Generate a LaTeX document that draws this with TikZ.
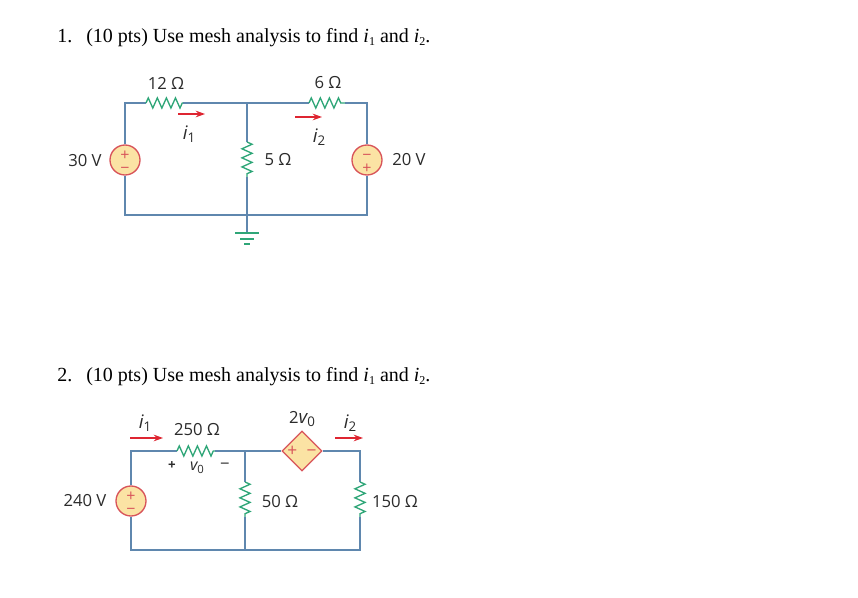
\documentclass[tikz,border=0pt]{standalone}
\usepackage{fontspec}
\setmainfont{Liberation Serif}
\newfontfamily\labelfont{Open Sans}
\usepackage{xcolor}
\usetikzlibrary{shapes.geometric, arrows.meta, positioning, calc, decorations.pathmorphing}
\definecolor{wireblue}{HTML}{5F87AE}
\definecolor{resgreen}{HTML}{2FA678}
\definecolor{srcfill}{HTML}{FBE3A4}
\definecolor{srcline}{HTML}{D8545A}
\definecolor{currred}{HTML}{DE2531}
\definecolor{inkgray}{HTML}{2B2B2B}
\newcommand{\subvar}[2]{{\fontsize{14}{16}\selectfont\itshape #1}\raisebox{-0.35ex}{\fontsize{10}{10}\selectfont #2}}
\newcommand{\smallvar}[2]{{\fontsize{12}{14}\selectfont\itshape #1}\raisebox{-0.35ex}{\fontsize{8.5}{10}\selectfont #2}}
\newcommand{\headsub}[2]{{\itshape #1}\raisebox{-0.3ex}{\fontsize{9}{10}\selectfont #2}}
\newcommand{\signpair}[2]{\rule{0pt}{10.5pt}#1\\#2}
\tikzset{
    wire/.style={draw=wireblue, line width=1.1pt},
    resistor/.style={draw=resgreen, line width=1pt, decorate,
        decoration={zigzag, segment length=6.8pt, amplitude=3.8pt}},
    source/.style={circle, draw=srcline, fill=srcfill, line width=1pt,
        minimum size=22.5pt, inner sep=0pt, text=srcline, align=center,
        font=\labelfont\fontsize{12}{9.5}\selectfont},
    depsource/.style={diamond, draw=srcline, fill=srcfill, line width=1pt,
        minimum size=30pt, inner sep=0pt, text=srcline,
        font=\labelfont\fontsize{13}{14}\selectfont},
    value/.style={text=inkgray, font=\labelfont\fontsize{12.5}{14}\selectfont, inner sep=0pt},
    heading/.style={anchor=base west, font=\fontsize{15}{18}\selectfont, inner sep=0pt},
    current/.style={-{Stealth[length=7pt, width=5pt]}, draw=currred, line width=1pt},
    earth/.style={draw=resgreen, line width=1pt},
}
\begin{document}
\begin{tikzpicture}[x=0.75pt, y=-0.75pt]
\useasboundingbox (0,0) rectangle (858,598);

% Headings
\node[heading] (numA) at (57,43) {1.};
\node[heading] (headA) at (86,43) {(10 pts) Use mesh analysis to find \headsub{i}{1} and \headsub{i}{2}.};
\node[heading] (numB) at (57,382) {2.};
\node[heading] (headB) at (86,382) {(10 pts) Use mesh analysis to find \headsub{i}{1} and \headsub{i}{2}.};

% First circuit
\coordinate (tlA) at (125,103);
\coordinate (tmA) at (247,103);
\coordinate (trA) at (367,103);
\coordinate (blA) at (125,215);
\coordinate (bmA) at (247,215);
\coordinate (brA) at (367,215);
\coordinate (gndA) at (247,233);
\coordinate (rAa) at (146,103);
\coordinate (rAb) at (183,103);
\coordinate (rBa) at (309,103);
\coordinate (rBb) at (345,103);
\coordinate (rCa) at (247,142);
\coordinate (rCb) at (247,177);
\node[source] (srcA) at (125,160) {\signpair{+}{\textminus}};
\node[source] (srcB) at (367,160) {\signpair{\textminus}{+}};

\draw[wire] (srcA) -- (tlA) -- (rAa);
\draw[wire] (rAb) -- (tmA) -- (rBa);
\draw[wire] (rBb) -- (trA) -- (srcB);
\draw[wire] (srcA) -- (blA) -- (brA) -- (srcB);
\draw[wire] (tmA) -- (rCa);
\draw[wire] (rCb) -- (gndA);
\draw[resistor] (rAa) -- (rAb);
\draw[resistor] (rBa) -- (rBb);
\draw[resistor] (rCa) -- (rCb);

% Ground bars
\foreach \w/\y in {12/233, 7/239, 3/244} {
    \draw[earth] (247-\w,\y) -- (247+\w,\y);
}

\node[value] (lblRa) at (166,83) {12 Ω};
\node[value] (lblRb) at (328,83) {6 Ω};
\node[value] (lblRc) at (278,160) {5 Ω};
\node[value] (lblVa) at (85,161) {30 V};
\node[value] (lblVb) at (409,160) {20 V};
\node[value] (lblIa) at (189,134) {\subvar{i}{1}};
\node[value] (lblIb) at (319,137) {\subvar{i}{2}};

\coordinate (iAa) at (178,114);
\coordinate (iAb) at (205,114);
\coordinate (iBa) at (295,117);
\coordinate (iBb) at (322,117);
\draw[current] (iAa) -- (iAb);
\draw[current] (iBa) -- (iBb);

% Second circuit
\coordinate (tlB) at (130,451);
\coordinate (tmB) at (245,451);
\coordinate (trB) at (360,451);
\coordinate (blB) at (130,550);
\coordinate (bmB) at (245,550);
\coordinate (brB) at (360,550);
\coordinate (rDa) at (177,451);
\coordinate (rDb) at (215,451);
\coordinate (rEa) at (245,482);
\coordinate (rEb) at (245,517);
\coordinate (rFa) at (360,482);
\coordinate (rFb) at (360,517);
\node[source] (srcC) at (131,501) {\signpair{+}{\textminus}};
\node[depsource] (srcD) at (302,451) {+\hspace{7pt}\textminus};

\draw[wire] (srcC) -- (srcC |- tlB) -- (rDa);
\draw[wire] (rDb) -- (tmB) -- (srcD);
\draw[wire] (srcD) -- (trB) -- (rFa);
\draw[wire] (srcC) -- (srcC |- blB) -- (brB) -- (rFb);
\draw[wire] (tmB) -- (rEa);
\draw[wire] (rEb) -- (bmB);
\draw[resistor] (rDa) -- (rDb);
\draw[resistor] (rEa) -- (rEb);
\draw[resistor] (rFa) -- (rFb);

\node[value] (lblRd) at (197,430) {250 Ω};
\node[value] (lblRe) at (280,502) {50 Ω};
\node[value] (lblRf) at (395,502) {150 Ω};
\node[value] (lblVc) at (85,501) {240 V};
\node[value] (lblVd) at (302,419) {2\subvar{v}{0}};
\node[value] (lblIc) at (145,423) {\subvar{i}{1}};
\node[value] (lblId) at (350,423) {\subvar{i}{2}};
\node[value] (lblVo) at (197,468) {\smallvar{v}{0}};
\node[value, font=\labelfont\bfseries\fontsize{10}{12}\selectfont] (lblVp) at (172,466) {+};
\node[value] (lblVm) at (225,466) {\textminus};

\coordinate (iCa) at (130,438);
\coordinate (iCb) at (163,438);
\coordinate (iDa) at (335,438);
\coordinate (iDb) at (363,438);
\draw[current] (iCa) -- (iCb);
\draw[current] (iDa) -- (iDb);
\end{tikzpicture}
\end{document}
